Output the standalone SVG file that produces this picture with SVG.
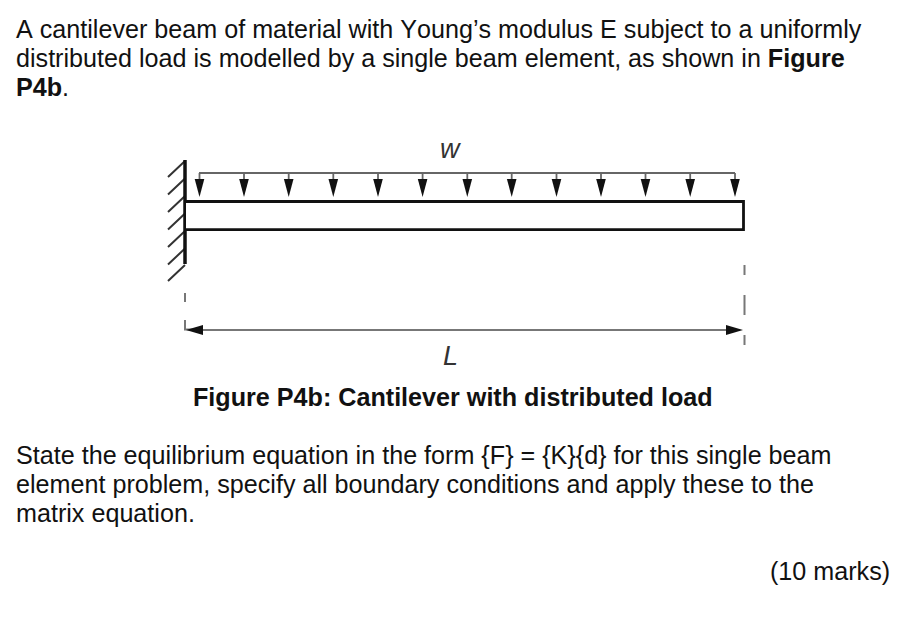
<svg xmlns="http://www.w3.org/2000/svg" width="905" height="623" viewBox="0 0 905 623">
<style>
text{font-family:"Liberation Sans",Arial,sans-serif;font-size:25.150px;fill:#111;font-kerning:none}
.b{font-weight:bold}
.i{font-style:italic;font-size:27px;fill:#333}
.h{stroke:#333;stroke-width:2;fill:none}
.t{stroke:#666;stroke-width:1.8;fill:none}
.d{stroke:#777;stroke-width:2;fill:none}
.a{fill:#111}
</style>
<defs>
<g id="ar"><path class="t" d="M0 0V8"/><path class="a" d="M-4.800 6H4.800L0 24Z"/></g>
</defs>
<rect width="905" height="623" fill="#fff"/>
<g id="question-top">
<text x="16" y="38">A cantilever beam of material with Young’s modulus E subject to a uniformly</text>
<text x="16" y="67">distributed load is modelled by a single beam element, as shown in <tspan class="b">Figure</tspan></text>
<text x="16" y="96"><tspan class="b">P4b</tspan>.</text>
</g>
<g id="wall">
<path class="h" d="M168 177L185 161M168 194.500L185 178.500M168 212L185 196M168 229.500L185 213.500M168 247L185 231M168 264.500L185 248.500M168 281L185 265"/>
<path d="M185 160V264" stroke="#111" stroke-width="3.500" fill="none"/>
</g>
<g id="beam">
<path d="M186 201.500H743.500V229.700H186" fill="#fff" stroke="#111" stroke-width="2.800"/>
</g>
<g id="load">
<path class="t" d="M199 173H735"/>
<use href="#ar" x="199.500" y="173"/><use href="#ar" x="244" y="173"/><use href="#ar" x="288.700" y="173"/><use href="#ar" x="333.300" y="173"/><use href="#ar" x="378" y="173"/><use href="#ar" x="422.600" y="173"/><use href="#ar" x="467.300" y="173"/><use href="#ar" x="511.700" y="173"/><use href="#ar" x="556.500" y="173"/><use href="#ar" x="601" y="173"/><use href="#ar" x="645.500" y="173"/><use href="#ar" x="690.200" y="173"/><use href="#ar" x="735" y="173"/>
<text class="i" x="440" y="158">w</text>
</g>
<g id="dimension">
<path class="d" d="M185 293V302M185 320V329.500H200M744.500 265V275M744.500 295V315M744.500 335V345"/>
<path class="d" d="M200 330H730"/>
<path class="a" d="M186 330L203 325V335Z"/>
<path class="a" d="M743 330L726 325V335Z"/>
<text class="i" x="443" y="365">L</text>
</g>
<g id="caption">
<text class="b" x="193" y="406">Figure P4b: Cantilever with distributed load</text>
</g>
<g id="question-bottom">
<text x="16" y="464">State the equilibrium equation in the form {F} = {K}{d} for this single beam</text>
<text x="16" y="493">element problem, specify all boundary conditions and apply these to the</text>
<text x="16" y="522">matrix equation.</text>
<text x="770" y="580">(10 marks)</text>
</g>
</svg>
